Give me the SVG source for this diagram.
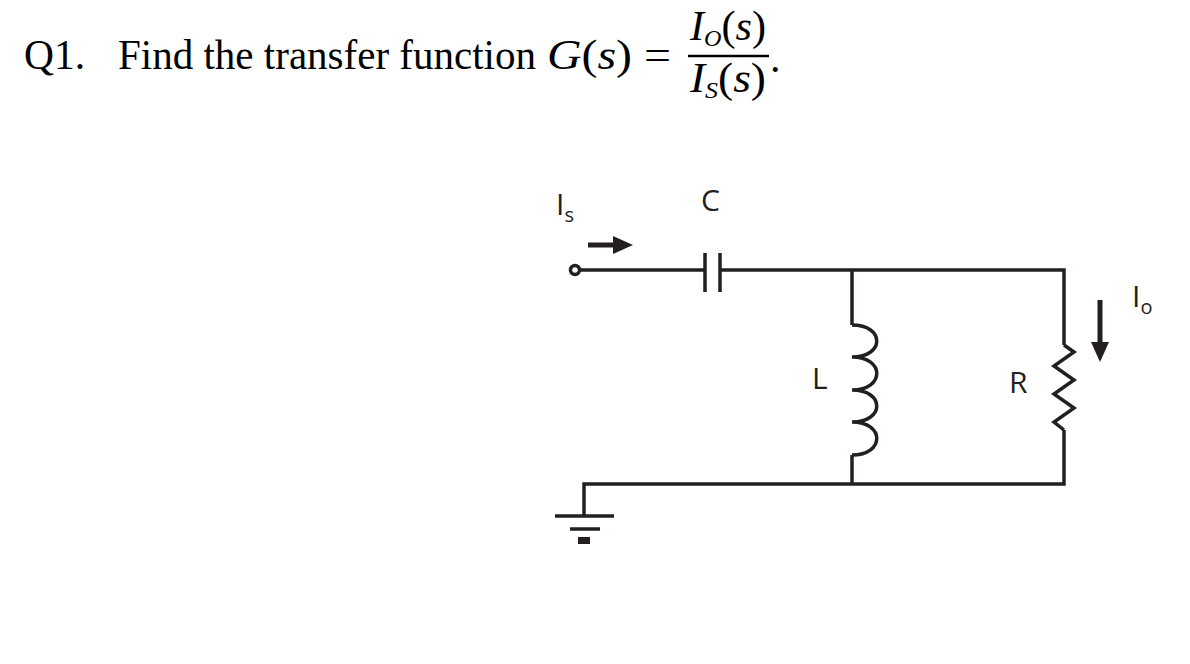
<svg xmlns="http://www.w3.org/2000/svg" width="1190" height="664" viewBox="0 0 1190 664">
<style>
.w{fill:none;stroke:#231f20;stroke-width:3.5;stroke-linejoin:miter}
.t{font-family:"Liberation Serif",serif;font-size:42px;fill:#000}
.l{font-family:"Open Sans","DejaVu Sans",sans-serif;font-size:30px;fill:#231f20}
</style>
<rect width="1190" height="664" fill="#fff"/>
<g id="title">
<text class="t" x="24" y="69" textLength="61" lengthAdjust="spacingAndGlyphs">Q1.</text>
<text class="t" x="118" y="69" textLength="418" lengthAdjust="spacingAndGlyphs">Find the transfer function</text>
<text class="t" x="547" y="69" textLength="124" lengthAdjust="spacingAndGlyphs"><tspan font-style="italic">G</tspan>(<tspan font-style="italic">s</tspan>) =</text>
<text class="t" x="690" y="40" font-size="34" textLength="76" lengthAdjust="spacingAndGlyphs"><tspan font-style="italic">I</tspan><tspan font-style="italic" font-size="24" dy="6">O</tspan><tspan dy="-6">(</tspan><tspan font-style="italic">s</tspan>)</text>
<line x1="688" y1="56" x2="769" y2="56" stroke="#000" stroke-width="2.5"/>
<text class="t" x="690" y="92" font-size="34" textLength="76" lengthAdjust="spacingAndGlyphs"><tspan font-style="italic">I</tspan><tspan font-style="italic" font-size="24" dy="6">S</tspan><tspan dy="-6">(</tspan><tspan font-style="italic">s</tspan>)</text>
<text class="t" x="770" y="72" font-size="26">.</text>
</g>
<g id="connectors">
<path class="w" d="M579 270H705M720 270H1064V345M1064 430V484H584V516M852 270V325M852 455V484"/>
</g>
<g id="terminal"><circle cx="575" cy="270" r="4.5" fill="#fff" stroke="#231f20" stroke-width="3.5"/></g>
<g id="capacitor"><path class="w" d="M705 253V292M720 253V292"/><text class="l" x="701" y="211">C</text></g>
<g id="inductor"><path class="w" d="M852 325C885 325 885 357 852 357C885 357 885 390 852 390C885 390 885 422 852 422C885 422 885 455 852 455"/><text class="l" x="812" y="389">L</text></g>
<g id="resistor"><path class="w" d="M1064 345L1074 352L1054 366L1074 380L1054 394L1074 408L1054 422L1064 430"/><text class="l" x="1009" y="393">R</text></g>
<g id="ground"><path class="w" d="M555 516H614M570 529H600"/><rect x="578" y="537" width="12" height="7" fill="#231f20"/></g>
<g id="is"><text class="l" x="556" y="215">I<tspan font-size="20" dy="7">s</tspan></text>
<path d="M588 245H615" stroke="#231f20" stroke-width="5"/><path d="M613 236L633 245L613 254Z" fill="#231f20"/></g>
<g id="io"><text class="l" x="1132" y="307">I<tspan font-size="20" dy="7">o</tspan></text>
<path d="M1100 300V345" stroke="#231f20" stroke-width="5"/><path d="M1091 342L1100 362L1109 342Z" fill="#231f20"/></g>
</svg>
